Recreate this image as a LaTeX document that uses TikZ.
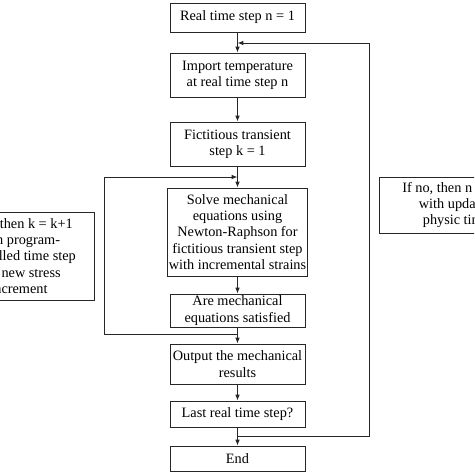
\documentclass[tikz,border=0pt]{standalone}
\usepackage{fontspec}
\setmainfont{Liberation Serif}
\usetikzlibrary{arrows.meta}

\begin{document}
\begin{tikzpicture}
		[
			x=0.03cm, y=-0.03cm,
			box/.style = {rectangle, align=center, draw=black!85, line width=0.8pt, fill=white,
				minimum width=4.05cm, inner sep=1pt, font=\fontsize{12.2}{13.9}\selectfont},
			line/.style = {draw=black!85, line width=0.8pt},
			arr/.style = {line, -{Latex[length=5pt,width=4pt]}},
		]

		\path[use as bounding box] (0,0) rectangle (474,474);
		\clip (0,0) rectangle (474,474);

		% main column
		\node[box, minimum height=0.87cm] (start) 	at ( 237.5,  17.5 ) {Real time step n = 1};
		\node[box, minimum height=1.32cm] (import) 	at ( 237.5,  75.0 ) {Import temperature\\at real time step n};
		\node[box, minimum height=1.32cm] (fict) 	at ( 237.5, 144.0 ) {Fictitious transient\\step k = 1};
		\node[box, minimum height=2.64cm] (solve) 	at ( 237.5, 232.0 ) {Solve mechanical\\equations using\\Newton-Raphson for\\fictitious transient step\\with incremental strains};
		\node[box, minimum height=0.99cm] (check) 	at ( 237.5, 310.5 ) {Are mechanical\\equations satisfied};
		\node[box, minimum height=1.20cm] (output) 	at ( 237.5, 364.0 ) {Output the mechanical\\results};
		\node[box, minimum height=0.78cm] (last) 	at ( 237.5, 414.0 ) {Last real time step?};
		\node[box, minimum height=0.75cm] (end) 	at ( 237.5, 458.5 ) {End};

		% side notes
		\node[box, minimum width=4.50cm, minimum height=2.64cm] (knote) at (  19.0, 256.0 ) {If no, then k = k+1\\with program-\\controlled time step\\and new stress\\increment};
		\node[box, minimum width=4.62cm, minimum height=1.68cm] (nnote) at ( 456.0, 205.0 ) {If no, then n = n+1\\with updated\\physic time};

		% loop corners
		\coordinate (jn) at ( 237.5,  43 );
		\coordinate (jk) at ( 237.5, 177 );
		\coordinate (ck) at ( 237.5, 334 );
		\coordinate (cn) at ( 237.5, 436 );
		\coordinate (kb) at ( 104, 334 );
		\coordinate (kt) at ( 104, 177 );
		\coordinate (nb) at ( 369, 436 );
		\coordinate (nt) at ( 369,  43 );

		\foreach \from/\to in {start/import,import/fict,fict/solve,solve/check,check/output,output/last,last/end}
		\draw[arr] (\from) -- (\to);

		\draw[arr] (ck) -- (kb) -- (kt) -- (jk);
		\draw[arr] (cn) -- (nb) -- (nt) -- (jn);

		\end{tikzpicture}
\end{document}
